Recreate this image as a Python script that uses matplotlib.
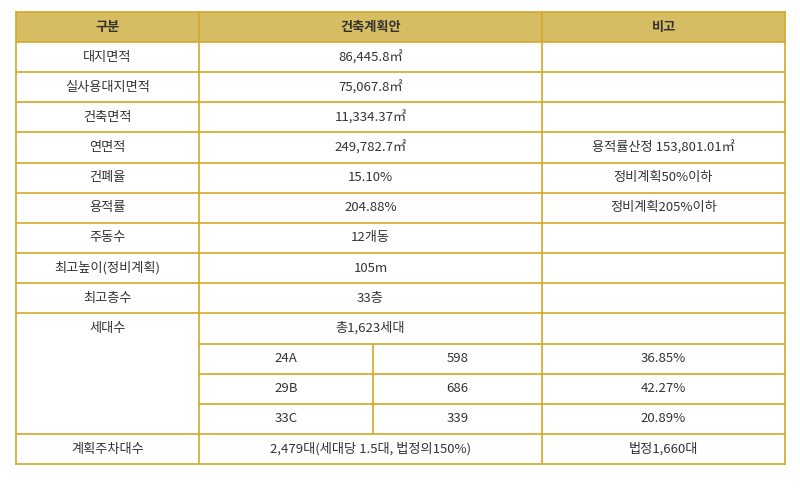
import matplotlib
matplotlib.use("Agg")
import matplotlib.pyplot as plt
from matplotlib.patches import Rectangle

headers = ["구분", "건축계획안", "비고"]
labels = ["대지면적", "실사용대지면적", "건축면적", "연면적", "건폐율", "용적률", "주동수",
          "최고높이(정비계획)", "최고층수", "세대수"]
plans = ["86,445.8㎡", "75,067.8㎡", "11,334.37㎡", "249,782.7㎡", "15.10%", "204.88%",
         "12개동", "105m", "33층", "총1,623세대"]
notes = ["", "", "", "용적률산정 153,801.01㎡", "정비계획50%이하", "정비계획205%이하",
         "", "", "", ""]
types = ["24A", "29B", "33C"]
units = ["598", "686", "339"]
ratios = ["36.85%", "42.27%", "20.89%"]
park_label = "계획주차대수"
park_plan = "2,479대(세대당 1.5대, 법정의150%)"
park_note = "법정1,660대"

plt.rcParams["font.family"] = ["Noto Sans CJK KR", "Noto Sans CJK JP", "Noto Sans CJK SC", "DejaVu Sans"]
fig = plt.figure(figsize=(8, 4.96), dpi=100)
ax = fig.add_axes([0, 0, 1, 1])
ax.set_xlim(0, 800); ax.set_ylim(496, 0); ax.axis("off")

x0, x1, xm, x2, x3 = 16, 199, 373, 542, 785
top, hh, rh = 12, 30, 30.15
line = "#D4A82A"; hdr = "#D6BC62"; tc = "#333333"; fs = 9.5
lw = 1.2

ax.add_patch(Rectangle((x0, top), x3 - x0, hh, fc=hdr, ec="none"))
for t, (a, b) in zip(headers, [(x0, x1), (x1, x2), (x2, x3)]):
    ax.text((a + b) / 2, top + hh / 2, t, ha="center", va="center", fontsize=fs,
            fontweight="bold", color=tc)

def ry(i):
    return top + hh + i * rh

for i, (l, p, n) in enumerate(zip(labels, plans, notes)):
    yc = ry(i) + rh / 2
    ax.text((x0 + x1) / 2, yc, l, ha="center", va="center", fontsize=fs, color=tc)
    ax.text((x1 + x2) / 2, yc, p, ha="center", va="center", fontsize=fs, color=tc)
    ax.text((x2 + x3) / 2, yc, n, ha="center", va="center", fontsize=fs, color=tc)
n0 = len(labels)
for j, (t, u, r) in enumerate(zip(types, units, ratios)):
    yc = ry(n0 + j) + rh / 2
    ax.text((x1 + xm) / 2, yc, t, ha="center", va="center", fontsize=fs, color=tc)
    ax.text((xm + x2) / 2, yc, u, ha="center", va="center", fontsize=fs, color=tc)
    ax.text((x2 + x3) / 2, yc, r, ha="center", va="center", fontsize=fs, color=tc)
np_ = n0 + len(types)
yc = ry(np_) + rh / 2
ax.text((x0 + x1) / 2, yc, park_label, ha="center", va="center", fontsize=fs, color=tc)
ax.text((x1 + x2) / 2, yc, park_plan, ha="center", va="center", fontsize=fs, color=tc)
ax.text((x2 + x3) / 2, yc, park_note, ha="center", va="center", fontsize=fs, color=tc)

bottom = ry(np_ + 1)
ax.plot([x0, x3], [top, top], color=line, lw=lw)
for i in range(np_ + 2):
    if n0 <= i <= np_ - 1:
        ax.plot([x1, x3], [ry(i), ry(i)], color=line, lw=lw)
    else:
        ax.plot([x0, x3], [ry(i), ry(i)], color=line, lw=lw)
for x in [x0, x1, x2, x3]:
    ax.plot([x, x], [top, bottom], color=line, lw=lw)
ax.plot([xm, xm], [ry(n0), ry(np_)], color=line, lw=lw)
fig.savefig("out.png", dpi=100, facecolor="white")
